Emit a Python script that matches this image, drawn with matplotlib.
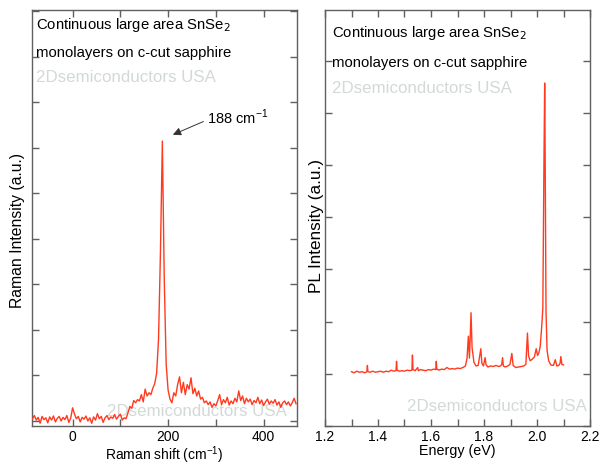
import numpy as np
import matplotlib
matplotlib.use("Agg")
import matplotlib.pyplot as plt
from matplotlib.ticker import MultipleLocator, NullFormatter

plt.rcParams['font.family'] = ['Liberation Sans', 'DejaVu Sans']

# Raman spectrum, shift grid every 4 cm-1 from -84 to 468
raman_shift = np.arange(-84, 469, 4)
raman_int = [
    0.05, 0.12, 0.02, 0.08, -0.05, 0.10, 0.03, 0.07, -0.04, 0.09,
    0.02, 0.11, -0.02, 0.06, 0.10, 0.00, 0.08, 0.03, 0.12, -0.03,
    0.06, 0.29, 0.15, 0.05, 0.10, -0.02, 0.08, 0.04, 0.11, 0.00,
    0.07, -0.05, 0.09, 0.02, 0.16, 0.05, 0.10, -0.03, 0.07, 0.12,
    0.03, 0.09, 0.06, 0.14, 0.04, 0.10, 0.15, 0.02, 0.07, 0.05,
    0.18, 0.32, 0.28, 0.45, 0.40, 0.47, 0.44, 0.58, 0.42, 0.70,
    0.55, 0.62, 0.58, 0.72, 0.82, 1.05, 1.80, 3.70, 6.15, 3.10,
    1.25, 0.68, 0.48, 0.40, 0.62, 0.55, 0.80, 0.97, 0.62, 0.85,
    0.58, 0.80, 0.70, 0.95, 0.60, 0.72, 0.55, 0.66, 0.48, 0.52,
    0.40, 0.44, 0.36, 0.42, 0.30, 0.38, 0.33, 0.45, 0.58, 0.36,
    0.47, 0.40, 0.52, 0.35, 0.44, 0.38, 0.50, 0.42, 0.66, 0.45,
    0.55, 0.38, 0.50, 0.42, 0.48, 0.36, 0.45, 0.40, 0.52, 0.38,
    0.46, 0.34, 0.42, 0.48, 0.37, 0.44, 0.39, 0.47, 0.35, 0.42,
    0.30, 0.40, 0.44, 0.36, 0.42, 0.33, 0.40, 0.50, 0.38,
]

# PL spectrum (energy in eV)
pl_energy = [
    1.300, 1.310, 1.320, 1.330, 1.340, 1.350, 1.358, 1.360, 1.362, 1.370,
    1.380, 1.390, 1.400, 1.410, 1.420, 1.430, 1.440, 1.450, 1.460, 1.468,
    1.470, 1.472, 1.480, 1.490, 1.500, 1.510, 1.520, 1.528, 1.530, 1.532,
    1.540, 1.550, 1.552, 1.560, 1.570, 1.580, 1.590, 1.600, 1.610, 1.618,
    1.620, 1.622, 1.630, 1.640, 1.650, 1.660, 1.670, 1.680, 1.690, 1.700,
    1.710, 1.720, 1.730, 1.736, 1.741, 1.745, 1.748, 1.751, 1.755, 1.762,
    1.770, 1.778, 1.788, 1.792, 1.798, 1.804, 1.808, 1.815, 1.825, 1.835,
    1.845, 1.855, 1.862, 1.867, 1.870, 1.873, 1.880, 1.890, 1.898, 1.905,
    1.910, 1.920, 1.930, 1.940, 1.950, 1.958, 1.964, 1.968, 1.974, 1.982,
    1.990, 1.997, 2.002, 2.007, 2.012, 2.017, 2.022, 2.026, 2.029, 2.031,
    2.034, 2.038, 2.044, 2.052, 2.062, 2.069, 2.075, 2.082, 2.087, 2.090,
    2.094, 2.100,
]
pl_int = [
    0.04, 0.02, 0.05, 0.03, 0.04, 0.02, 0.04, 0.16, 0.04, 0.03,
    0.05, 0.03, 0.04, 0.05, 0.03, 0.05, 0.04, 0.07, 0.05, 0.06,
    0.24, 0.07, 0.05, 0.06, 0.05, 0.07, 0.06, 0.07, 0.36, 0.08,
    0.06, 0.12, 0.06, 0.08, 0.07, 0.06, 0.08, 0.07, 0.09, 0.08,
    0.24, 0.09, 0.07, 0.09, 0.08, 0.12, 0.09, 0.10, 0.09, 0.11,
    0.10, 0.12, 0.15, 0.30, 0.72, 0.30, 0.70, 1.17, 0.50, 0.22,
    0.15, 0.16, 0.48, 0.20, 0.15, 0.31, 0.17, 0.13, 0.15, 0.14,
    0.16, 0.14, 0.15, 0.18, 0.31, 0.15, 0.13, 0.15, 0.18, 0.39,
    0.16, 0.12, 0.13, 0.14, 0.15, 0.18, 0.78, 0.35, 0.25, 0.28,
    0.32, 0.48, 0.35, 0.40, 0.52, 0.85, 1.25, 3.90, 5.57, 3.97,
    1.20, 0.45, 0.25, 0.17, 0.16, 0.27, 0.15, 0.16, 0.20, 0.33,
    0.18, 0.17,
]

LINE = '#ff3a1f'
SPINE = '#606060'
WM = '#d3d8d8'
WM_TEXT = '2Dsemiconductors USA'

fig = plt.figure(figsize=(6.08, 4.68), dpi=100)
ax1 = fig.add_axes([32/608, 42/468, 265/608, 416/468])
ax2 = fig.add_axes([325/608, 42/468, 265/608, 416/468])

for ax in (ax1, ax2):
    for s in ax.spines.values():
        s.set_color(SPINE)
        s.set_linewidth(1.0)
    ax.tick_params(which='both', direction='in', top=True, right=True,
                   length=5, width=1, color=SPINE, labelsize=10, pad=3)
    ax.yaxis.set_major_formatter(NullFormatter())

# Raman panel
ax1.text(73, 0.12, WM_TEXT, fontsize=12.2, color=WM, zorder=1, clip_on=True)
ax1.plot(raman_shift, raman_int, color=LINE, lw=1.0, zorder=3)
ax1.set_xlim(-85, 470)
ax1.set_ylim(-0.11, 9.03)
ax1.xaxis.set_major_locator(MultipleLocator(200))
ax1.xaxis.set_minor_locator(MultipleLocator(100))
ax1.yaxis.set_major_locator(MultipleLocator(1))
ax1.set_xlabel('Raman shift (cm$^{\\mathregular{-1}}$)', fontsize=10, labelpad=0)
ax1.set_ylabel('Raman Intensity (a.u.)', fontsize=11.3)
ax1.yaxis.set_label_coords(-0.026, 0.469)
ax1.text(0.015, 0.9536, 'Continuous large area SnSe$_2$', transform=ax1.transAxes,
         fontsize=10.7, va='baseline')
ax1.text(0.015, 0.8863, 'monolayers on c-cut sapphire', transform=ax1.transAxes,
         fontsize=10.7, va='baseline')
ax1.text(0.015, 0.8276, WM_TEXT, transform=ax1.transAxes,
         fontsize=12.2, color=WM, va='baseline')
ax1.annotate('', xy=(210, 6.29), xytext=(274, 6.58),
             arrowprops=dict(arrowstyle='-|>', color='#333333', lw=0.7,
                             mutation_scale=12, shrinkA=0, shrinkB=0))
ax1.text(281, 6.53, '188 cm$^{\\mathregular{-1}}$', fontsize=10.5, va='baseline')

# PL panel
ax2.plot(pl_energy, pl_int, color=LINE, lw=1.0, zorder=3)
ax2.set_xlim(1.2, 2.2)
ax2.set_ylim(-1.0, 6.97)
ax2.xaxis.set_major_locator(MultipleLocator(0.2))
ax2.xaxis.set_minor_locator(MultipleLocator(0.1))
ax2.yaxis.set_major_locator(MultipleLocator(1))
ax2.set_xlabel('Energy (eV)', fontsize=10.3, labelpad=0)
ax2.set_ylabel('PL Intensity (a.u.)', fontsize=12.3)
ax2.yaxis.set_label_coords(-0.004, 0.48)
ax2.text(0.026, 0.9344, 'Continuous large area SnSe$_2$', transform=ax2.transAxes,
         fontsize=10.7, va='baseline')
ax2.text(0.026, 0.8637, 'monolayers on c-cut sapphire', transform=ax2.transAxes,
         fontsize=10.7, va='baseline')
ax2.text(0.026, 0.8012, WM_TEXT, transform=ax2.transAxes,
         fontsize=12.2, color=WM, va='baseline')
ax2.text(0.989, 0.037, WM_TEXT, transform=ax2.transAxes,
         fontsize=12.2, color=WM, va='baseline', ha='right')

fig.savefig('out.png', dpi=100)
